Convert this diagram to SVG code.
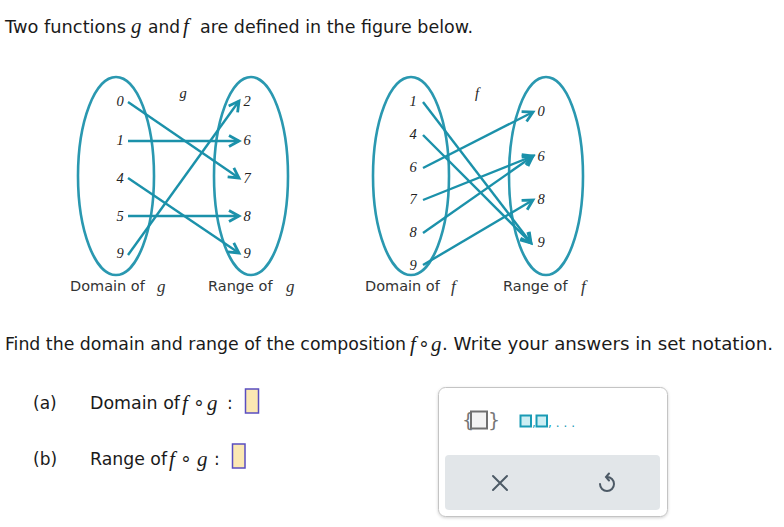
<svg xmlns="http://www.w3.org/2000/svg" width="784" height="527" viewBox="0 0 784 527">
<defs>
<style>
.t{font-family:"DejaVu Sans",Verdana,sans-serif;font-size:17px;fill:#1a1a1a}
.tc{font-family:"DejaVu Sans Condensed","DejaVu Sans",sans-serif;font-stretch:condensed;font-size:17px;fill:#1a1a1a}
.m{font-family:"Liberation Serif","Times New Roman",serif;font-style:italic;font-size:21px;fill:#1a1a1a}
.op{font-family:"DejaVu Sans",sans-serif;font-size:19px;fill:#1a1a1a}
.lab{font-family:"DejaVu Sans",Verdana,sans-serif;font-size:14.5px;fill:#333}
.lm{font-family:"Liberation Serif",serif;font-style:italic;font-size:17px;fill:#333}
.d{font-family:"Liberation Serif",serif;font-style:italic;font-size:14.5px;fill:#222;text-anchor:middle}
.ov{fill:none;stroke:#2a98b0;stroke-width:2.6}
.ar{fill:none;stroke:#1b91aa;stroke-width:2.4;marker-end:url(#ah)}
.box{fill:#fbe8b3;stroke:#5a4ec0;stroke-width:1.5}
.ic{fill:none;stroke:#4d5a66;stroke-width:2;stroke-linecap:round}
</style>
<marker id="ah" markerUnits="userSpaceOnUse" markerWidth="20" markerHeight="20" refX="0" refY="0" viewBox="-12 -10 14 20" orient="auto">
<path d="M-10,-5.5 L0,0 L-10,5.5" fill="none" stroke="#1b91aa" stroke-width="2.8"/>
</marker>
<filter id="sh" x="-10%" y="-10%" width="120%" height="120%">
<feDropShadow dx="0" dy="1" stdDeviation="1.5" flood-color="#000" flood-opacity="0.18"/>
</filter>
</defs>
<rect width="784" height="527" fill="#fff"/>

<g id="title">
<text class="t" x="5" y="33" textLength="121" lengthAdjust="spacingAndGlyphs">Two functions</text>
<text class="m" x="131" y="33">g</text>
<text class="t" x="148" y="33" textLength="32" lengthAdjust="spacingAndGlyphs">and</text>
<text class="m" x="183" y="33">f</text>
<text class="t" x="200" y="33" textLength="273" lengthAdjust="spacingAndGlyphs">are defined in the figure below.</text>
</g>

<g id="g-domain">
<ellipse class="ov" cx="116" cy="176" rx="38" ry="99"/>
<text class="d" x="120" y="106">0</text>
<text class="d" x="120" y="145">1</text>
<text class="d" x="120" y="183">4</text>
<text class="d" x="120" y="221">5</text>
<text class="d" x="120" y="258">9</text>
<text class="lab" x="70" y="291">Domain of</text>
<text class="lm" x="157" y="292">g</text>
</g>
<g id="g-range">
<ellipse class="ov" cx="251" cy="176" rx="37" ry="99"/>
<text class="d" x="247" y="106">2</text>
<text class="d" x="247" y="145">6</text>
<text class="d" x="247" y="183">7</text>
<text class="d" x="247" y="221">8</text>
<text class="d" x="247" y="258">9</text>
<text class="lab" x="208" y="291">Range of</text>
<text class="lm" x="286" y="292">g</text>
</g>
<g id="g-name"><text class="d" x="183" y="98">g</text></g>

<g id="f-domain">
<ellipse class="ov" cx="411" cy="176" rx="38" ry="99"/>
<text class="d" x="413" y="106">1</text>
<text class="d" x="413" y="139">4</text>
<text class="d" x="413" y="172">6</text>
<text class="d" x="413" y="204">7</text>
<text class="d" x="413" y="237">8</text>
<text class="d" x="413" y="270">9</text>
<text class="lab" x="365" y="291">Domain of</text>
<text class="lm" x="451" y="292">f</text>
</g>
<g id="f-range">
<ellipse class="ov" cx="546" cy="176" rx="37" ry="99"/>
<text class="d" x="541" y="116">0</text>
<text class="d" x="541" y="161">6</text>
<text class="d" x="541" y="204">8</text>
<text class="d" x="541" y="247">9</text>
<text class="lab" x="503" y="291">Range of</text>
<text class="lm" x="581" y="292">f</text>
</g>
<g id="f-name"><text class="d" x="477" y="98">f</text></g>

<g id="connectors">
<line class="ar" x1="128" y1="102" x2="239" y2="178"/>
<line class="ar" x1="128" y1="141" x2="239" y2="141"/>
<line class="ar" x1="128" y1="178" x2="239" y2="253"/>
<line class="ar" x1="128" y1="216" x2="239" y2="216"/>
<line class="ar" x1="128" y1="255" x2="239" y2="101"/>
<line class="ar" x1="423" y1="102" x2="531" y2="243"/>
<line class="ar" x1="423" y1="135" x2="531" y2="243"/>
<line class="ar" x1="423" y1="168" x2="533" y2="112"/>
<line class="ar" x1="423" y1="200" x2="533" y2="156"/>
<line class="ar" x1="423" y1="233" x2="533" y2="156"/>
<line class="ar" x1="423" y1="265" x2="533" y2="200"/>
</g>

<g id="question">
<text class="tc" x="5" y="350" textLength="401" lengthAdjust="spacingAndGlyphs">Find the domain and range of the composition</text>
<text class="m" x="410" y="351">f</text>
<text class="op" x="418" y="350">∘</text>
<text class="m" x="431" y="351">g</text>
<text class="tc" x="442" y="350" textLength="331" lengthAdjust="spacingAndGlyphs">. Write your answers in set notation.</text>
</g>

<g id="part-a">
<text class="t" x="33" y="409">(a)</text>
<text class="t" x="90" y="409" textLength="90" lengthAdjust="spacingAndGlyphs">Domain of</text>
<text class="m" x="182" y="410">f</text>
<text class="op" x="193" y="409">∘</text>
<text class="m" x="207" y="410">g</text>
<text class="t" x="227" y="409">:</text>
<rect class="box" x="245.5" y="389" width="13" height="24"/>
</g>
<g id="part-b">
<text class="t" x="33" y="465">(b)</text>
<text class="t" x="90" y="465" textLength="77" lengthAdjust="spacingAndGlyphs">Range of</text>
<text class="m" x="169" y="466">f</text>
<text class="op" x="180" y="465">∘</text>
<text class="m" x="197" y="466">g</text>
<text class="t" x="214" y="465">:</text>
<rect class="box" x="232.5" y="444" width="12.5" height="24"/>
</g>

<g id="panel">
<rect x="438.5" y="387.5" width="229" height="129" rx="7" fill="#fff" stroke="#c4c4c4" filter="url(#sh)"/>
<rect x="445" y="455" width="215" height="55" rx="4" fill="#e2e6e9"/>
<text x="462" y="427" font-family="DejaVu Sans,sans-serif" font-size="19" fill="#777">{</text>
<rect x="471" y="411.5" width="16" height="17" fill="#f3f3f3" stroke="#707070" stroke-width="2"/>
<text x="488" y="427" font-family="DejaVu Sans,sans-serif" font-size="19" fill="#777">}</text>
<rect x="520.5" y="415.5" width="10.5" height="11" fill="#cdeef3" stroke="#1a9bb5" stroke-width="2"/>
<text x="532" y="427" font-family="DejaVu Sans,sans-serif" font-size="12" fill="#1a9bb5">,</text>
<rect x="536.5" y="415.5" width="10.5" height="11" fill="#cdeef3" stroke="#1a9bb5" stroke-width="2"/>
<text x="548" y="427" font-family="DejaVu Sans,sans-serif" font-size="12" fill="#1a9bb5" textLength="27" lengthAdjust="spacing">,...</text>
<path class="ic" d="M493,476 L507,490 M507,476 L493,490"/>
<path class="ic" d="M607,477 A7 7 0 1 1 600,484"/>
<path class="ic" d="M609,473.5 L606,477 L609,480.5"/>
</g>
</svg>
